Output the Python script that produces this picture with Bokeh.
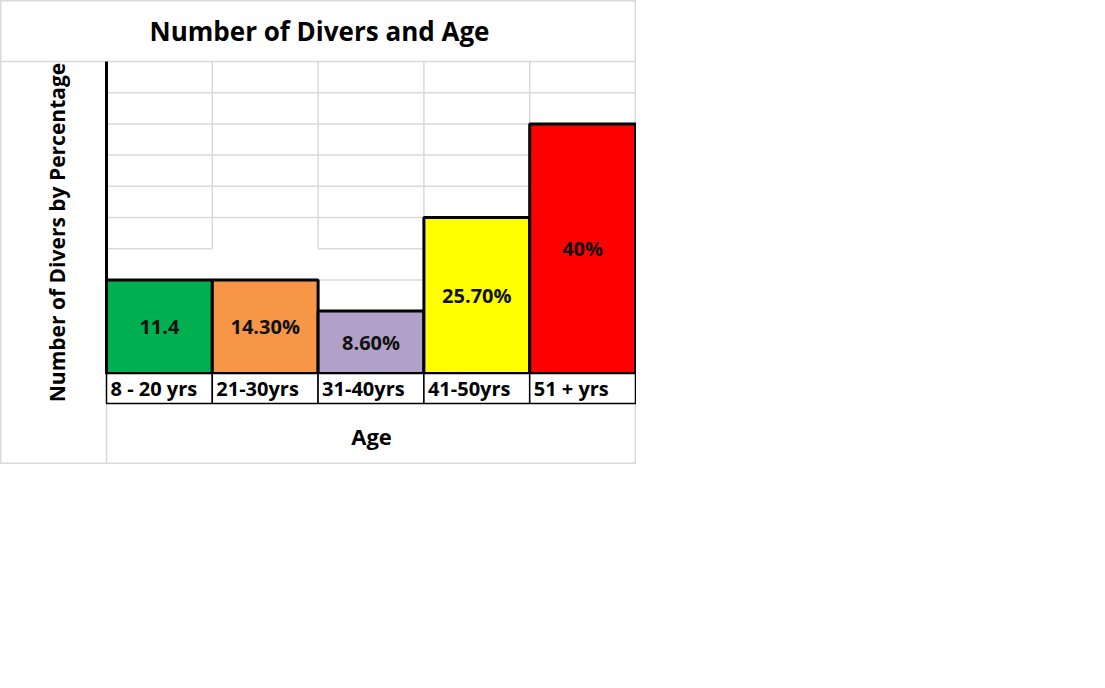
import numpy as np

from bokeh.plotting import figure
from bokeh.models import ColumnDataSource, Range1d
from bokeh.core.properties import value
from bokeh.embed import file_html
from bokeh.resources import INLINE

# data as shown in the sheet
categories = ["8 - 20 yrs", "21-30yrs", "31-40yrs", "41-50yrs", "51 + yrs"]
bar_rows = [3, 3, 2, 5, 8]  # bar heights in sheet rows, as drawn
bar_labels = ["11.4", "14.30%", "8.60%", "25.70%", "40%"]
bar_colors = ["#00B050", "#F79646", "#B1A0C7", "#FFFF00", "#FF0000"]
grid_floor = [4, 5, 3, 6, 9]  # lowest visible sheet gridline in each column
n_rows = 10

title_text = "Number of Divers and Age"
x_label = "Age"
y_label = "Number of Divers by Percentage"

font = "Open Sans"
grid_color = "#d9d9d9"

# canvas layout (pixels)
W, H = 636, 464
left_px, base_px, top_px = 106, 373, 61
col_w = (635 - left_px) / len(categories)
row_h = (base_px - top_px) / n_rows
label_row = 30 / row_h


def px_x(px):
    return (px - left_px) / col_w


def px_y(px):
    return (base_px - px) / row_h


p = figure(width=W, height=H, output_backend="svg", toolbar_location=None,
           x_range=Range1d(px_x(0), px_x(W)), y_range=Range1d(px_y(H), px_y(0)),
           min_border=0, min_border_left=0, min_border_right=0,
           min_border_top=0, min_border_bottom=0)
p.axis.visible = False
p.grid.visible = False
p.outline_line_color = grid_color
p.outline_line_width = 2
p.background_fill_color = "white"
p.border_fill_color = "white"

idx = np.arange(len(categories))
source = ColumnDataSource(dict(
    left=idx, right=idx + 1, mid=idx + 0.5, top=bar_rows,
    label_y=np.array(bar_rows) / 2, bar_label=bar_labels, color=bar_colors,
    cat=categories, cat_x=idx + 4 / col_w,
))

# sheet gridlines
hx0, hx1, hy = [], [], []
for i, fl in enumerate(grid_floor):
    for k in range(fl, n_rows):
        hx0.append(i)
        hx1.append(i + 1)
        hy.append(k)
p.segment(x0=hx0, x1=hx1, y0=hy, y1=hy, line_color=grid_color, line_width=1.5)
vx, vy0 = [], []
for b in range(1, len(categories)):
    vx.append(b)
    vy0.append(max(bar_rows[b - 1], bar_rows[b], 4))
p.segment(x0=vx, x1=vx, y0=vy0, y1=[n_rows] * len(vx), line_color=grid_color, line_width=1.5)
# title row border and left column border
p.segment(x0=[px_x(0)], x1=[len(categories)], y0=[n_rows], y1=[n_rows], line_color=grid_color, line_width=1.5)
p.segment(x0=[0], x1=[0], y0=[-label_row], y1=[px_y(H)], line_color=grid_color, line_width=1.5)

# bars
p.quad(left="left", right="right", bottom=0, top="top", fill_color="color",
       line_color="black", line_width=3, source=source)
p.segment(x0=[0], x1=[0], y0=[0], y1=[n_rows], line_color="black", line_width=3)

# category cells
p.quad(left="left", right="right", bottom=-label_row, top=0, fill_color="white",
       line_color="black", line_width=1.5, source=source)
p.text(x="cat_x", y=-label_row / 2, text="cat", source=source, text_font=value(font),
       text_font_style="bold", text_font_size="20px", text_align="left",
       text_baseline="middle", text_color="black")

# value labels
p.text(x="mid", y="label_y", text="bar_label", source=source, text_font=value(font),
       text_font_style="bold", text_font_size="20px", text_align="center",
       text_baseline="middle", text_color="#111111")

# title and axis labels
p.text(x=[px_x(319)], y=[px_y(30)], text=[title_text], text_font=value(font),
       text_font_style="bold", text_font_size="26px", text_align="center",
       text_baseline="middle", text_color="black")
p.text(x=[px_x(371)], y=[px_y(435)], text=[x_label], text_font=value(font),
       text_font_style="bold", text_font_size="22px", text_align="center",
       text_baseline="middle", text_color="black")
p.text(x=[px_x(56)], y=[px_y(232)], text=[y_label], angle=np.pi / 2, text_font=value(font),
       text_font_style="bold", text_font_size="21px", text_align="center",
       text_baseline="middle", text_color="black")

open("out.html", "w").write(file_html(p, INLINE))
